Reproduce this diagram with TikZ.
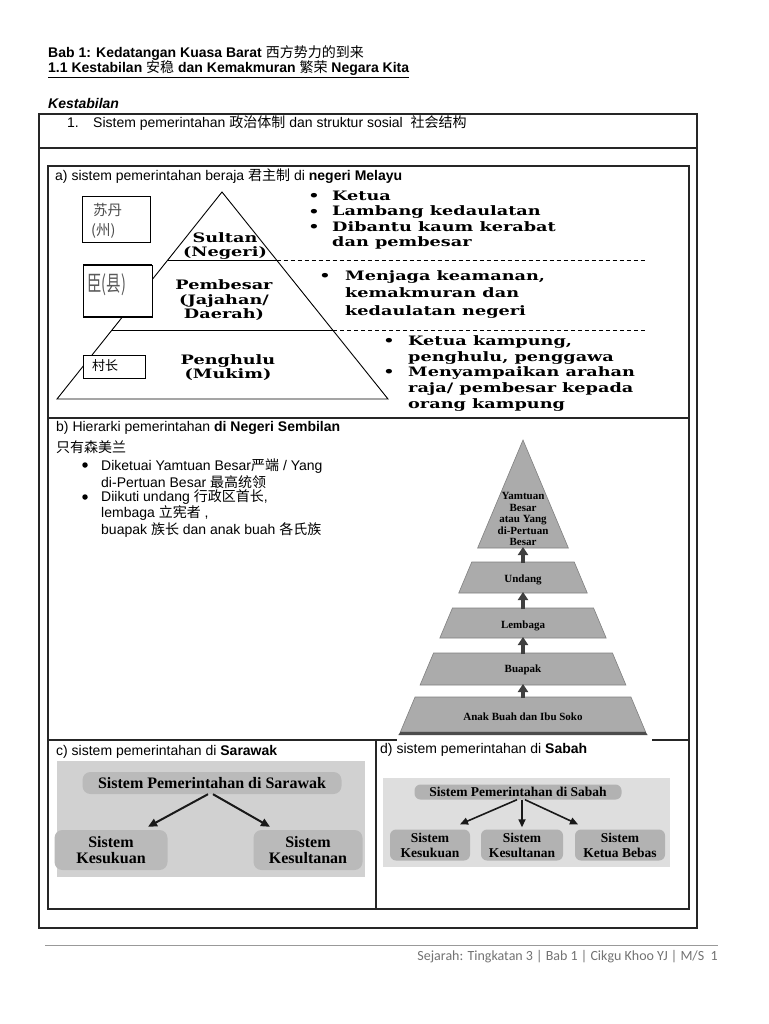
\documentclass[tikz,border=0pt]{standalone}
\usepackage{fontspec}
\setmainfont{Liberation Sans}
\newfontfamily\cjkfont{Noto Sans CJK SC}
\newfontfamily\pyrfont[FakeStretch=1.36]{DejaVu Serif}
\newfontfamily\tmsfont{Liberation Serif}
\newfontfamily\footfont{Carlito}
\usetikzlibrary{arrows.meta}
\newcommand{\zhtext}[1]{{\cjkfont\mdseries #1}}
\tikzset{
  frame/.style={line width=1.1pt, draw=black!85},
  body/.style={anchor=west, inner sep=0pt, align=left, font=\fontsize{14}{16.5}\selectfont},
  hdr/.style={anchor=west, inner sep=0pt, font=\bfseries\fontsize{14}{16}\selectfont},
  cjkbox/.style={draw=black, fill=white, line width=0.8pt},
  plabel/.style={inner sep=0pt, align=center, font=\pyrfont\bfseries\fontsize{13}{14.5}\selectfont},
  pbul/.style={anchor=west, inner sep=0pt, align=left, font=\pyrfont\bfseries\fontsize{13}{15.4}\selectfont},
  pdot/.style={inner sep=0pt, font=\pyrfont\bfseries\fontsize{13}{15}\selectfont},
  sdot/.style={circle, fill=black, inner sep=0pt, minimum size=5.5pt},
  tier/.style={fill=black!33, draw=black!50, line width=0.6pt},
  tlabel/.style={inner sep=0pt, align=center, font=\tmsfont\bfseries\fontsize{11}{11.5}\selectfont},
  uparr/.style={-{Triangle[width=10pt,length=8pt]}, line width=3.5pt, draw=black!75},
  cnode/.style={rounded corners=8pt, fill=black!27, inner sep=0pt, align=center, font=\tmsfont\bfseries\fontsize{16}{16.5}\selectfont},
  dnode/.style={rounded corners=6pt, fill=black!30, inner sep=0pt, align=center, font=\tmsfont\bfseries\fontsize{13.5}{15}\selectfont},
  arr/.style={-{Triangle[width=8pt,length=9pt]}, line width=2pt, draw=black!90},
  darr/.style={-{Triangle[width=7pt,length=8pt]}, line width=1.6pt, draw=black!90}
}
\begin{document}
\begin{tikzpicture}[x=1pt,y=-1pt]
\useasboundingbox (0,0) rectangle (768,1024);
\fill[white] (0,0) rectangle (768,1024);

% ---------- header ----------
\node[hdr] (h1) at (48,53) {Bab 1: Kedatangan Kuasa Barat \zhtext{西方势力的到来}};
\node[hdr] (h2) at (48,69) {\underline{1.1 Kestabilan \zhtext{安稳} dan Kemakmuran \zhtext{繁荣} Negara Kita}};
\node[hdr, font=\bfseries\itshape\fontsize{14}{16}\selectfont] (h3) at (48,103) {Kestabilan};

% ---------- frames ----------
\draw[frame] (39,114) rectangle (697,928);
\draw[frame] (39,148) -- (697,148);
\draw[frame] (48,166) rectangle (689,909);
\draw[frame] (48,418) -- (689,418);
\draw[frame] (48,740) -- (397,740);
\draw[frame] (652,740) -- (689,740);
\draw[frame] (376,740) -- (376,909);

\node[body] (r1n) at (67,123) {1.};
\node[body] (r1) at (93,123) {Sistem pemerintahan \zhtext{政治体制} dan struktur sosial\ \ \zhtext{社会结构}};

% ---------- (a) ----------
\node[body] (ah) at (55,176) {a) sistem pemerintahan beraja \zhtext{君主制} di \textbf{negeri Melayu}};

\coordinate (apex) at (222,192);
\coordinate (bl) at (57,399);
\coordinate (br) at (388,399);
\draw[line width=0.9pt] (apex) -- (bl) -- (br) -- cycle;
\draw[line width=0.9pt] (168,260) -- (276.5,260);
\draw[line width=0.7pt, dash pattern=on 4pt off 3pt] (276.5,260) -- (645,260);
\draw[line width=0.9pt] (112,330) -- (333,330);
\draw[line width=0.7pt, dash pattern=on 4pt off 3pt] (333,330) -- (645,330);

\draw[cjkbox] (82,196) rectangle (150,242);
\node[anchor=west, inner sep=0pt, text=black!70, font=\cjkfont\fontsize{14.5}{16}\selectfont] (sd1) at (93,210) {苏丹};
\node[anchor=west, inner sep=0pt, text=black!70, font=\cjkfont\fontsize{14.5}{16}\selectfont] (sd2) at (91,231) {(州)};

\draw[cjkbox] (83,265) rectangle (152,317);
\draw[line width=2pt] (83,265) -- (152,265);
\draw[line width=2pt] (83,317) -- (152,317);
\node[anchor=west, inner sep=0pt, text=black!65, font=\cjkfont\fontsize{14.5}{16}\selectfont] (cx) at (87,285) {\scalebox{1}[1.5]{臣(县)}};

\draw[cjkbox] (83,355) rectangle (145,378);
\node[anchor=west, inner sep=0pt, font=\cjkfont\fontsize{13}{15}\selectfont] (cz) at (92,366) {村长};

\node[plabel] (sultan) at (225,246) {Sultan\\(Negeri)};
\node[plabel] (pembesar) at (224,300.5) {Pembesar\\(Jajahan/\\Daerah)};
\node[plabel] (penghulu) at (228,367.5) {Penghulu\\(Mukim)};

\node[pdot] (b11) at (314,197) {•};
\node[pdot] (b12) at (314,213) {•};
\node[pdot] (b13) at (314,228) {•};
\node[pbul] (t1) at (332,220) {Ketua\\Lambang kedaulatan\\Dibantu kaum kerabat\\dan pembesar};
\node[pdot] (b21) at (325,277) {•};
\node[pbul, font=\pyrfont\bfseries\fontsize{13}{17.5}\selectfont] (t2) at (345,294.5) {Menjaga keamanan,\\kemakmuran dan\\kedaulatan negeri};
\node[pdot] (b31) at (389,342) {•};
\node[pdot] (b32) at (389,373) {•};
\node[pbul, font=\pyrfont\bfseries\fontsize{13}{15.75}\selectfont] (t3) at (408,373.5) {Ketua kampung,\\penghulu, penggawa\\Menyampaikan arahan\\raja/ pembesar kepada\\orang kampung};

% ---------- (b) ----------
\node[body] (bh) at (56,428) {b) Hierarki pemerintahan \textbf{di Negeri Sembilan}};
\node[body] (bz) at (56,447) {\zhtext{只有森美兰}};
\node[sdot] (bd1) at (85,465) {};
\node[sdot] (bd2) at (85,497) {};
\node[body] (bi1) at (101,473.5) {Diketuai Yamtuan Besar\zhtext{严端} / Yang\\di-Pertuan Besar \zhtext{最高统领}};
\node[body] (bi2) at (101,513.5) {Diikuti undang \zhtext{行政区首长},\\lembaga \zhtext{立宪者} ,\\buapak \zhtext{族长} dan anak buah \zhtext{各氏族}};

% pyramid of Negeri Sembilan
\fill[tier] (523,440) -- ({523+0.42*108},548) -- ({523-0.42*108},548) -- cycle;
\foreach \t/\b in {562/593, 608/638, 653/685, 697/732} {
  \fill[tier] ({523-0.42*(\t-440)},\t) -- ({523+0.42*(\t-440)},\t) -- ({523+0.42*(\b-440)},\b) -- ({523-0.42*(\b-440)},\b) -- cycle;
}
\fill[black!70] ({523-0.42*292},732) -- ({523+0.42*292},732) -- ({525+0.42*292},735) -- ({521-0.42*292},735) -- cycle;

\node[tlabel] (yam) at (523,519) {Yamtuan\\Besar\\atau Yang\\di-Pertuan\\Besar};
\node[tlabel] (und) at (523,580) {Undang};
\node[tlabel] (lem) at (523,626) {Lembaga};
\node[tlabel] (bua) at (523,670) {Buapak};
\node[tlabel] (anak) at (523,717) {Anak Buah dan Ibu Soko};

\coordinate (t1b) at (523,547);
\coordinate (t2t) at (523,563);
\coordinate (t2b) at (523,592);
\coordinate (t3t) at (523,609);
\coordinate (t3b) at (523,637);
\coordinate (t4t) at (523,654);
\coordinate (t4b) at (523,684);
\coordinate (t5t) at (523,698);
\draw[uparr] (t2t) -- (t1b);
\draw[uparr] (t3t) -- (t2b);
\draw[uparr] (t4t) -- (t3b);
\draw[uparr] (t5t) -- (t4b);

% ---------- (c) ----------
\node[body] (ch) at (56,752) {c) sistem pemerintahan di \textbf{Sarawak}};
\fill[black!18] (57,761) rectangle (365,877);
\node[cnode, minimum width=259pt, minimum height=22pt] (ctop) at (212,783) {Sistem Pemerintahan di Sarawak};
\node[cnode, minimum width=113pt, minimum height=40pt] (cl) at (111,850) {Sistem\\Kesukuan};
\node[cnode, minimum width=109pt, minimum height=40pt] (cr) at (308,850) {Sistem\\Kesultanan};
\draw[arr] ([xshift=-4pt]ctop.south) -- ([xshift=37pt,yshift=3pt]cl.north);
\draw[arr] ([xshift=1pt]ctop.south) -- ([xshift=-38pt,yshift=3pt]cr.north);

% ---------- (d) ----------
\node[body] (dh) at (380,750) {d) sistem pemerintahan di \textbf{Sabah}};
\fill[black!13] (383,778) rectangle (670,867);
\node[dnode, minimum width=207pt, minimum height=15pt] (dtop) at (518,792) {Sistem Pemerintahan di Sabah};
\node[dnode, minimum width=80pt, minimum height=31pt] (dl) at (430,845) {Sistem\\Kesukuan};
\node[dnode, minimum width=82pt, minimum height=31pt] (dm) at (522,845) {Sistem\\Kesultanan};
\node[dnode, minimum width=90pt, minimum height=31pt] (dr) at (620,845) {Sistem\\Ketua Bebas};
\draw[darr] ([xshift=-1pt]dtop.south) -- ([xshift=30pt,yshift=5pt]dl.north);
\draw[darr] ([xshift=4pt]dtop.south) -- ([yshift=2pt]dm.north);
\draw[darr] ([xshift=7pt]dtop.south) -- ([xshift=-42pt,yshift=5pt]dr.north);

% ---------- footer ----------
\draw[black!40, line width=0.6pt] (45,945) -- (718,945);
\node[anchor=east, inner sep=0pt, text=black!55, font=\footfont\fontsize{14}{14}\selectfont] (foot) at (718,957) {Sejarah: Tingkatan 3 | Bab 1 | Cikgu Khoo YJ | M/S\ \ 1};
\end{tikzpicture}
\end{document}
